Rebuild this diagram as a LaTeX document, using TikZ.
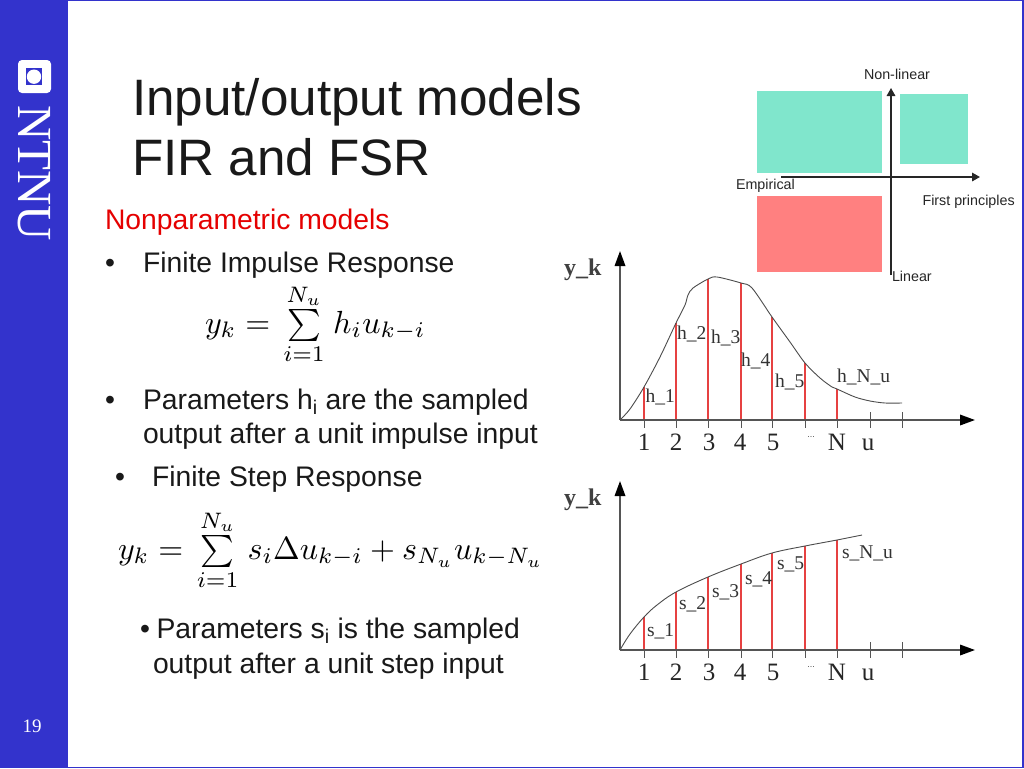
\documentclass[tikz,border=0pt]{standalone}
\usepackage{amsmath}
\usepackage{fontspec}
\setmainfont{Liberation Sans}
\newfontfamily\chartfont{Liberation Serif}
\definecolor{ntnublue}{RGB}{51,51,204}
\definecolor{boxgreen}{RGB}{128,230,204}
\definecolor{boxred}{RGB}{255,128,128}
\definecolor{chartgrey}{RGB}{85,85,85}
\definecolor{stemred}{RGB}{230,65,65}
\usetikzlibrary{arrows.meta}
\tikzset{
  every node/.style={inner sep=0pt,outer sep=0pt},
  titletext/.style={anchor=base west,font=\fontsize{51.2}{60}\selectfont,text=black!90},
  bodytext/.style={anchor=base west,font=\fontsize{28.3}{33}\selectfont,text=black!90},
  redtext/.style={anchor=base west,font=\fontsize{28.3}{33}\selectfont,text=red!90!black},
  smalltext/.style={anchor=base west,font=\fontsize{14.3}{17}\selectfont,text=black!85},
  axisline/.style={chartgrey,line width=1.8pt,-{Triangle[length=15pt,width=10.5pt,black]}},
  quadaxis/.style={black!85,line width=1.6pt,-{Triangle[length=8pt,width=8.5pt]}},
  tickline/.style={chartgrey,line width=0.8pt},
  stem/.style={stemred,line width=1.4pt},
  curveline/.style={black!70,line width=0.9pt},
  chartlabel/.style={anchor=base west,font=\chartfont\fontsize{19.5}{22}\selectfont,text=black!80},
  ticklabel/.style={anchor=base,font=\chartfont\fontsize{25}{27}\selectfont,text=black!85},
  ylabel/.style={anchor=base west,font=\chartfont\bfseries\fontsize{24}{27}\selectfont,text=black!75},
  formula/.style={anchor=base west,scale=3.2,text=black}
}
\begin{document}
\begin{tikzpicture}[x=1pt,y=-1pt]
\useasboundingbox (0,0) rectangle (1024,768);
% slide frame and band
\fill[white] (0,0) rectangle (1024,768);
\fill[ntnublue] (0,0) rectangle (68,768);
\fill[ntnublue] (0,0) rectangle (1024,1.5);
\fill[ntnublue] (0,766.5) rectangle (1024,768);
\fill[ntnublue] (1022,0) rectangle (1024,768);
% logo
\fill[white,rounded corners=4pt] (18,60) rectangle (51,93);
\fill[ntnublue] (26,68) rectangle (42,85);
\fill[white] (34,76.7) circle (7.2);
\node[rotate=-90,anchor=base west,text=white,font=\chartfont\fontsize{49}{50}\selectfont] (logo) at (18,105) {NTNU};
\node[anchor=base,text=white,font=\chartfont\fontsize{19}{22}\selectfont] (pagenum) at (32,732) {19};
% title
\node[titletext] (t1) at (132,115) {Input/output models};
\node[titletext] (t2) at (132,175) {FIR and FSR};
% body
\node[redtext] (np) at (105,229.5) {Nonparametric models};
\node[bodytext] (b1) at (105,272.5) {•};
\node[bodytext] (fir) at (143,272.5) {Finite Impulse Response};
\node[formula] (eq1) at (205,333) {$y_k=\kern1.3pt\sum\limits_{i=1}^{N_u}\kern1pt h_i u_{k-i}$};
\node[bodytext] (b2) at (105,409) {•};
\node[bodytext] (p1) at (143,409) {Parameters h\textsubscript{i} are the sampled};
\node[bodytext] (p2) at (143,443) {output after a unit impulse input};
\node[bodytext] (b3) at (115,486) {•};
\node[bodytext] (fsr) at (152,486) {Finite Step Response};
\node[formula] (eq2) at (118,559) {$y_k=\kern1.5pt\sum\limits_{i=1}^{N_u}\kern1.2pt s_i\Delta u_{k-i}+s_{N_u}u_{k-N_u}$};
\node[bodytext] (b4) at (140,638) {•};
\node[bodytext] (p3) at (156.5,638) {Parameters s\textsubscript{i} is the sampled};
\node[bodytext] (p4) at (153,673) {output after a unit step input};
% quadrant
\fill[boxgreen] (757,91) rectangle (882,173);
\fill[boxgreen] (900,94) rectangle (968,164);
\fill[boxred] (757,196) rectangle (882,272);
\coordinate (qb) at (891,275);
\coordinate (qt) at (891,88);
\coordinate (ql) at (781,177);
\coordinate (qr) at (980,177);
\draw[quadaxis] (qb) -- (qt);
\draw[quadaxis] (ql) -- (qr);
\node[smalltext] (nl) at (864,79) {Non-linear};
\node[smalltext] (emp) at (736,189.5) {Empirical};
\node[smalltext] (fp) at (922.5,205.5) {First principles};
\node[smalltext] (lin) at (892,281.5) {Linear};
% chart 1
\coordinate (o1) at (620,420);
\coordinate (y1) at (620,251);
\coordinate (x1) at (975,420);
\foreach \x/\yy in {644/387,676/323,708/279,741/283,772/317,805/363,837/389}
  \draw[stem] (\x,\yy) -- (\x,420);
\foreach \x in {644,676,708,741,772,805,837} \draw[tickline] (\x,420) -- (\x,428);
\foreach \x in {870,902} \draw[tickline] (\x,412) -- (\x,428);
\draw[curveline] plot[smooth,tension=0.5] coordinates {(620,420) (630,409) (644,387) (660,357) (676,323) (685,305) (688,295) (693,288) (708,279) (717,277) (741,283) (752,288) (772,317) (790,342) (805,363) (820,378) (832,387) (837,389) (855,397) (870,401) (885,403) (902,403)};
\draw[axisline] (o1) -- (y1);
\draw[axisline] (o1) -- (x1);
\node[ylabel] (yk1) at (564,275) {y\_k};
\node[chartlabel] (h1) at (645.5,402) {h\_1};
\node[chartlabel] (h2) at (677,339) {h\_2};
\node[chartlabel] (h3) at (711,343) {h\_3};
\node[chartlabel] (h4) at (741,366) {h\_4};
\node[chartlabel] (h5) at (775,387) {h\_5};
\node[chartlabel] (hN) at (837,382) {h\_N\_u};
\foreach \n/\x/\s in {a/644/1,b/676/2,c/709/3,d/740/4,e/773/5,f/837/N,g/868/u}
  \node[ticklabel] (tl1\n) at (\x,450) {\s};
\node[anchor=base,font=\fontsize{9}{10}\selectfont,text=black!70] (dots1) at (811,437) {...};
% chart 2
\coordinate (o2) at (620,650);
\coordinate (y2) at (620,481);
\coordinate (x2) at (975,650);
\foreach \x/\yy in {644/617,676/592,708/577,741/564,772/553,805/546,837/540}
  \draw[stem] (\x,\yy) -- (\x,650);
\foreach \x in {644,676,708,741,772,805,837} \draw[tickline] (\x,650) -- (\x,658);
\foreach \x in {870,902} \draw[tickline] (\x,642) -- (\x,658);
\draw[curveline] plot[smooth,tension=0.6] coordinates {(620,650) (630,634) (644,617) (657,605) (676,592) (708,577) (741,564) (772,553) (805,546) (837,540) (862,535)};
\draw[axisline] (o2) -- (y2);
\draw[axisline] (o2) -- (x2);
\node[ylabel] (yk2) at (564,505) {y\_k};
\node[chartlabel] (s1) at (647,636) {s\_1};
\node[chartlabel] (s2) at (679,609) {s\_2};
\node[chartlabel] (s3) at (712,597) {s\_3};
\node[chartlabel] (s4) at (745,584) {s\_4};
\node[chartlabel] (s5) at (777,569) {s\_5};
\node[chartlabel] (sN) at (842,558) {s\_N\_u};
\foreach \n/\x/\s in {a/644/1,b/676/2,c/709/3,d/740/4,e/773/5,f/837/N,g/868/u}
  \node[ticklabel] (tl2\n) at (\x,680) {\s};
\node[anchor=base,font=\fontsize{9}{10}\selectfont,text=black!70] (dots2) at (811,667) {...};
\end{tikzpicture}
\end{document}
